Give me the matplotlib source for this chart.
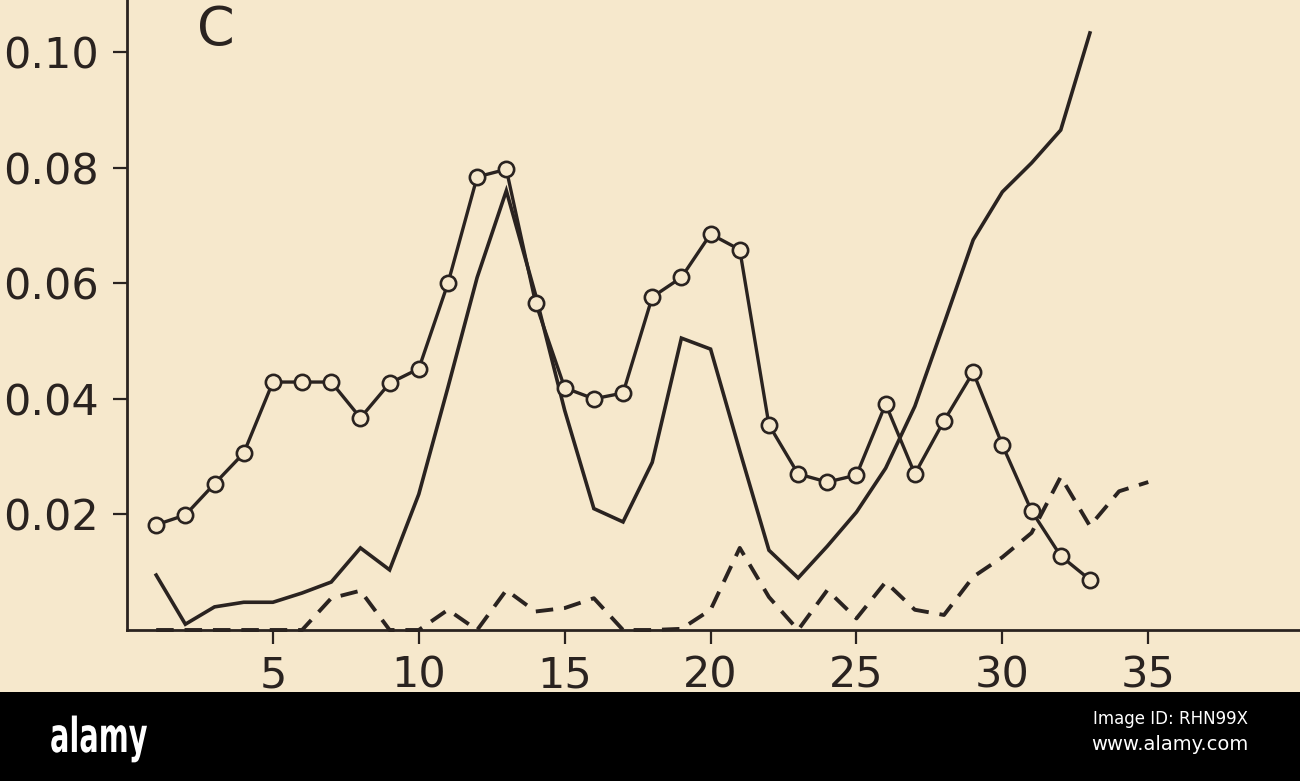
import numpy as np
import matplotlib
matplotlib.use("Agg")
import matplotlib.pyplot as plt
from matplotlib.patches import Rectangle, PathPatch
from matplotlib.textpath import TextPath
from matplotlib.font_manager import FontProperties
from matplotlib.transforms import Affine2D

# series (x = sample number)
x_open = np.arange(1, 34)
open_circles = [0.0182, 0.0199, 0.0253, 0.0306, 0.0429, 0.0429, 0.0429, 0.0367, 0.0427, 0.0452,
                0.0600, 0.0784, 0.0797, 0.0566, 0.0419, 0.0400, 0.0410, 0.0576, 0.0610, 0.0685,
                0.0658, 0.0355, 0.0270, 0.0256, 0.0268, 0.0391, 0.0270, 0.0362, 0.0446, 0.0320,
                0.0206, 0.0128, 0.0087]

x_solid = np.arange(1, 34)
solid = [0.0095, 0.0010, 0.0040, 0.0048, 0.0048, 0.0064, 0.0083, 0.0142, 0.0104, 0.0235,
         0.0420, 0.0610, 0.0760, 0.0580, 0.0380, 0.0210, 0.0187, 0.0290, 0.0505, 0.0486,
         0.0310, 0.0138, 0.0090, 0.0145, 0.0204, 0.0280, 0.0387, 0.0530, 0.0675, 0.0758,
         0.0808, 0.0865, 0.1033]

x_dash = np.arange(1, 36)
dashed = [0, 0, 0, 0, 0, 0, 0.0055, 0.0068, 0, 0,
          0.0035, 0, 0.0069, 0.0032, 0.0038, 0.0055, 0, 0, 0.0002, 0.0035,
          0.0142, 0.0057, 0, 0.0069, 0.0020, 0.0083, 0.0035, 0.0026, 0.0092, 0.0126,
          0.0168, 0.0265, 0.0180, 0.0240, 0.0256]

xticks = [5, 10, 15, 20, 25, 30, 35]
yticks = [0.02, 0.04, 0.06, 0.08, 0.10]
ytick_labels = ["0.02", "0.04", "0.06", "0.08", "0.10"]

paper = "#f6e8cc"
ink = "#2a2320"

fig = plt.figure(figsize=(13, 7.81), dpi=100, facecolor=paper)
ax = fig.add_axes([127 / 1300, 151 / 781, 1 - 127 / 1300, 1 - 151 / 781])
ax.set_facecolor(paper)

ax.plot(x_solid, solid, color=ink, lw=2.6, solid_joinstyle="miter", clip_on=False)
ax.plot(x_dash, dashed, color=ink, lw=2.8, dashes=(4.5, 2.8), clip_on=False)
ax.plot(x_open, open_circles, color=ink, lw=2.4, marker="o", ms=11,
        mfc=paper, mec=ink, mew=1.9, clip_on=False, zorder=3)

ax.set_xlim(0, 40.2)
ax.set_ylim(0, 0.109)
ax.set_xticks(xticks)
ax.set_xticklabels([str(t) for t in xticks])
ax.set_yticks(yticks)
ax.set_yticklabels(ytick_labels)

for s in ["top", "right"]:
    ax.spines[s].set_visible(False)
for s in ["left", "bottom"]:
    ax.spines[s].set_linewidth(2)
    ax.spines[s].set_color(ink)
ax.tick_params(direction="out", length=10, width=1.6, color=ink,
               labelsize=31, labelcolor=ink, pad=8)
ax.tick_params(axis="y", pad=10)

fig.text(197 / 1300, 1 - 4 / 781, "C", fontsize=39, color=ink, va="top", ha="left")

# stock-photo footer band
fig.add_artist(Rectangle((0, 0), 1, 89 / 781, transform=fig.transFigure,
                         facecolor="black", edgecolor="none", zorder=10))

# condensed "alamy" logo: squeeze a bold text path horizontally (pixel coords)
logo = TextPath((0, 0), "alamy", size=48, prop=FontProperties(family="DejaVu Sans", weight="bold"))
logo_tf = Affine2D().scale(0.6, 1.0).translate(50, 781 - 752)
fig.add_artist(PathPatch(logo_tf.transform_path(logo), facecolor="white", edgecolor="none",
                         transform=None, zorder=11))

fig.text(1248 / 1300, 62 / 781, "Image ID: RHN99X", color="white", fontsize=12,
         va="center", ha="right", zorder=11)
fig.text(1248 / 1300, 36 / 781, "www.alamy.com", color="white", fontsize=14,
         va="center", ha="right", zorder=11)

fig.savefig("out.png", dpi=100, facecolor=paper)
